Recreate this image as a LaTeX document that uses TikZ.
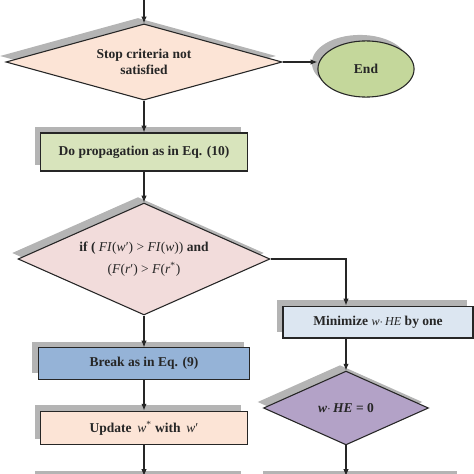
\documentclass[tikz,border=0pt]{standalone}
\usepackage{fontspec}
\setmainfont{Liberation Serif}
\usetikzlibrary{arrows.meta,shapes.geometric,shadows}
\definecolor{ink}{HTML}{262626}
\definecolor{shade}{HTML}{B4B4B4}
\definecolor{peach}{HTML}{FCE4D6}
\definecolor{olive}{HTML}{C4D79B}
\definecolor{sage}{HTML}{D8E4BC}
\definecolor{rose}{HTML}{F2DCDB}
\definecolor{ice}{HTML}{DCE6F1}
\definecolor{steel}{HTML}{95B3D7}
\definecolor{lilac}{HTML}{B3A2C7}

\begin{document}
\begin{tikzpicture}[x=0.026cm,y=-0.026cm,>={Latex[length=5pt,width=4pt]},
  shadowed/.style={drop shadow={shadow xshift=-0.156cm,shadow yshift=0.156cm,fill=shade,opacity=1}},
  decide/.style={diamond,draw=ink,line width=0.8pt,inner sep=0pt,shadowed,align=center,font=\bfseries,text=ink},
  procbox/.style={rectangle,draw=ink,line width=0.8pt,inner sep=0pt,shadowed,align=center,font=\bfseries,text=ink},
  link/.style={draw=ink,line width=0.8pt}]
\useasboundingbox (0,0) rectangle (474,474);
% left column
\coordinate (entry) at (144,0);
\node[decide,fill=peach,shape aspect=3.6,minimum width=7.18cm,minimum height=1.98cm] (stopq) at (144,62) {Stop criteria not\\satisfied};
\node[ellipse,draw=ink,line width=0.8pt,fill=olive,shadowed,font=\bfseries,text=ink,
  minimum width=2.5cm,minimum height=1.46cm,inner sep=0pt] (finish) at (366,69) {End};
\node[procbox,fill=sage,minimum width=5.36cm,minimum height=0.99cm] (prop) at (144,152) {Do propagation as in Eq. (10)};
\node[decide,fill=rose,shape aspect=2.25,minimum width=6.55cm,minimum height=2.91cm] (cmp) at (144,259)
  {if ( {\mdseries\textit{FI}(\textit{w}′) > \textit{FI}(\textit{w}))} and\\[4pt]
   {\mdseries(\textit{F}(\textit{r}′) > \textit{F}(\textit{r}\textsuperscript{*})}};
\node[procbox,fill=steel,minimum width=5.49cm,minimum height=0.81cm] (brk) at (144,363.5) {Break as in Eq. (9)};
\node[procbox,fill=peach,minimum width=5.36cm,minimum height=0.88cm] (upd) at (144,428)
  {Update \,{\mdseries\textit{w}\textsuperscript{*}} with \,{\mdseries\textit{w}′}};
\node[procbox,fill=white,minimum width=5.36cm,minimum height=1cm,anchor=north] (nextl) at (144,476) {};
% right column
\coordinate (turn) at (346,259);
\node[procbox,fill=ice,minimum width=4.94cm,minimum height=0.83cm] (mini) at (378,322)
  {Minimize {\mdseries\small\textit{w}$\cdot$\,\textit{HE}} by one};
\node[decide,fill=lilac,shape aspect=2.23,minimum width=4.29cm,minimum height=1.92cm] (zero) at (346,408)
  {\textit{w}$\cdot$\,\textit{HE} = 0};
\node[procbox,fill=white,minimum width=5.02cm,minimum height=1cm,anchor=north] (nextr) at (366,476) {};
% connectors
\draw[link,->] (entry) -- (stopq.north);
\draw[link,->] (stopq.east) -- (stopq.east -| finish.west);
\draw[link,->] (stopq.south) -- (prop.north);
\draw[link,->] (prop.south) -- (cmp.north);
\draw[link,->] (cmp.south) -- (brk.north);
\draw[link,->] (brk.south) -- (upd.north);
\draw[link,->] (upd.south) -- (nextl.north);
\draw[link,->] (cmp.east) -- (turn) -- (turn |- mini.north);
\draw[link,->] (zero.north |- mini.south) -- (zero.north);
\draw[link,->] (zero.south) -- (zero.south |- nextr.north);
\end{tikzpicture}
\end{document}
